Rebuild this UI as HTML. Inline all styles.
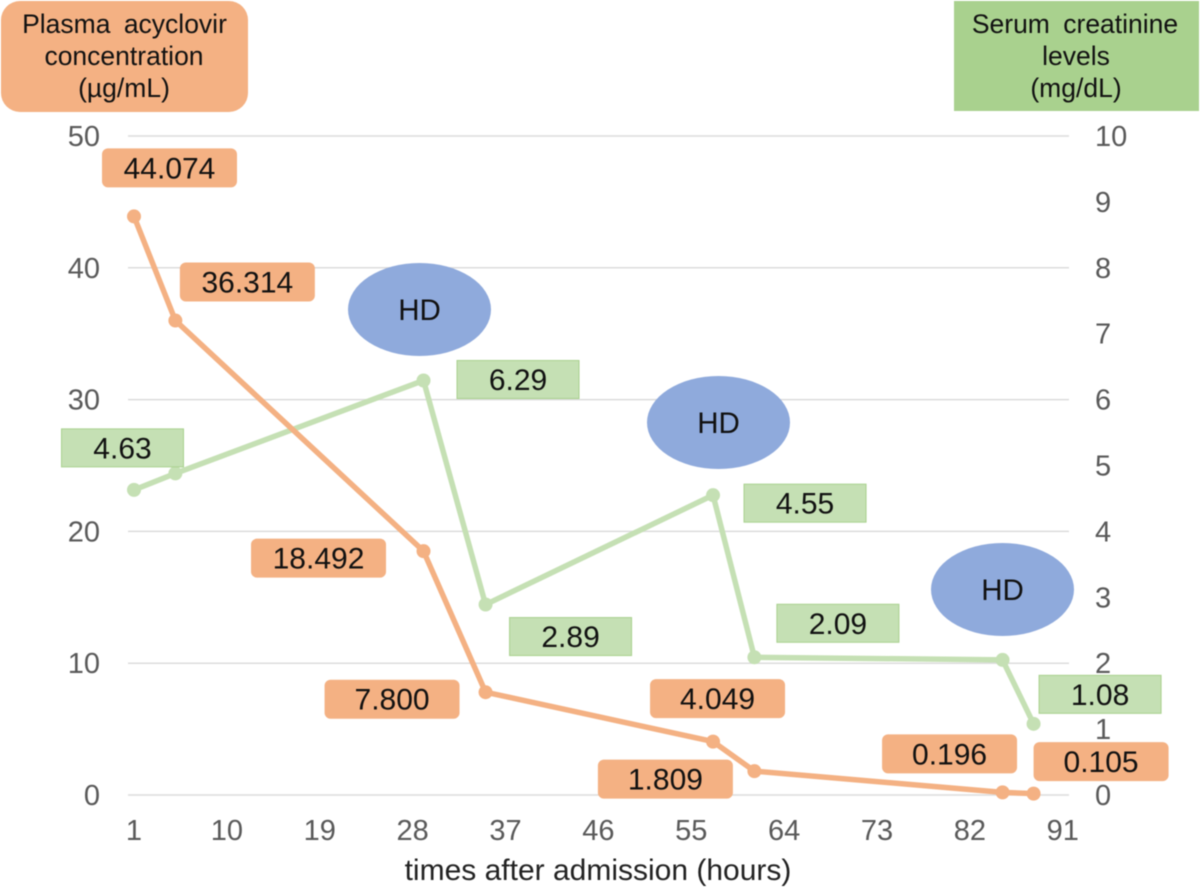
<!DOCTYPE html>
<html lang="en">
<head>
<meta charset="utf-8">
<title>Plasma acyclovir and serum creatinine over time</title>
<style>
html,body{margin:0;padding:0;background:#fff;width:1200px;height:890px;overflow:hidden}
svg{display:block;font-family:"Liberation Sans",Arial,sans-serif}
#chart-root{filter:blur(0.45px)}
</style>
</head>
<body>
<svg id="chart" xmlns="http://www.w3.org/2000/svg" width="1200" height="890" viewBox="0 0 1200 890">
<g id="chart-root">
  <g id="grid-layer"></g>
  <g id="tick-layer"></g>
  <g id="series-layer"></g>
  <g id="label-layer"></g>

  <g>
    <rect x="1" y="1" width="247" height="111" rx="19" fill="#f4b183"/>
    <text x="124.5" y="33" text-anchor="middle" font-size="26.5" word-spacing="6" fill="#111">Plasma acyclovir</text>
    <text x="124" y="65" text-anchor="middle" font-size="26.5" fill="#111">concentration</text>
    <text x="124" y="97" text-anchor="middle" font-size="26.5" fill="#111">(µg/mL)</text>
  </g>
  <g>
    <rect x="954" y="1" width="245" height="110" fill="#a9d18e"/>
    <text x="1075" y="33" text-anchor="middle" font-size="26.5" word-spacing="6" fill="#111">Serum creatinine</text>
    <text x="1076" y="65" text-anchor="middle" font-size="26.5" fill="#111">levels</text>
    <text x="1076" y="97" text-anchor="middle" font-size="26.5" fill="#111">(mg/dL)</text>
  </g>

  <g>
    <ellipse cx="419.5" cy="309.5" rx="71.5" ry="46.5" fill="#8faadc"/>
    <text x="419.5" y="320" text-anchor="middle" font-size="29.5" fill="#111">HD</text>
  </g>
  <g>
    <ellipse cx="718.5" cy="422.5" rx="71.5" ry="46.5" fill="#8faadc"/>
    <text x="718.5" y="433" text-anchor="middle" font-size="29.5" fill="#111">HD</text>
  </g>
  <g>
    <ellipse cx="1002.5" cy="589.5" rx="71.5" ry="46.5" fill="#8faadc"/>
    <text x="1002.5" y="600" text-anchor="middle" font-size="29.5" fill="#111">HD</text>
  </g>

  <text x="598" y="880" text-anchor="middle" font-size="30" fill="#222">times after admission (hours)</text>
</g>
</svg>
<script>
// Chart data
const xTickLabels = [1, 10, 19, 28, 37, 46, 55, 64, 73, 82, 91];
const leftTickLabels = [0, 10, 20, 30, 40, 50];
const rightTickLabels = [0, 1, 2, 3, 4, 5, 6, 7, 8, 9, 10];
const hours = [1, 5, 29, 35, 57, 61, 85, 88];
const acyclovirValues = [43.9, 36.0, 18.5, 7.8, 4.05, 1.81, 0.2, 0.105];
const acyclovirLabels = ['44.074', '36.314', '18.492', '7.800', '4.049', '1.809', '0.196', '0.105'];
const creatinineHours = [1, 5, 29, 35, 57, 61, 85, 88];
const creatinineValues = [4.63, 4.88, 6.29, 2.89, 4.55, 2.09, 2.05, 1.08];
const creatinineLabels = ['4.63', null, '6.29', '2.89', '4.55', '2.09', null, '1.08'];

// Layout: label-box centre offsets relative to each point
const acyclovirLabelOffsets = [[35.5, -48.5], [72, -38.5], [-105, 7], [-93.5, 7], [4.5, -43], [-89, 8], [-53, -38.5], [67.5, -32]];
const creatinineLabelOffsets = [[-11.5, -42], null, [94.5, -1], [85, 32], [92, 8], [83.5, -34], null, [66.5, -29.5]];

const NS = 'http://www.w3.org/2000/svg';
const xScale = function (h) { return 134 + (h - 1) * 10.34; };
const xTickScale = function (t) { return 134 + (t - 1) * 10.32; };
const yLeft = function (v) { return 795 - v * 13.18; };
const yRight = function (v) { return 795 - v * 65.9; };

function make(tag, attrs, parent, text) {
  const el = document.createElementNS(NS, tag);
  Object.keys(attrs).forEach(function (k) { el.setAttribute(k, attrs[k]); });
  if (text !== undefined) { el.textContent = text; }
  parent.appendChild(el);
  return el;
}

const gridLayer = document.getElementById('grid-layer');
const tickLayer = document.getElementById('tick-layer');
const seriesLayer = document.getElementById('series-layer');
const labelLayer = document.getElementById('label-layer');

leftTickLabels.forEach(function (t) {
  const line = make('line', { x1: 128, x2: 1069, y1: yLeft(t), y2: yLeft(t), stroke: '#dcdcdc', 'stroke-width': 1.5 }, gridLayer);
  
  
  const label = make('text', { x: 100, y: yLeft(t) + 10, 'text-anchor': 'end', 'font-size': 29, fill: '#595959' }, tickLayer, String(t));
  
  
});

rightTickLabels.forEach(function (t) {
  const label = make('text', { x: 1095, y: yRight(t) + 10, 'text-anchor': 'start', 'font-size': 29, fill: '#595959' }, tickLayer, String(t));
  
  
});

xTickLabels.forEach(function (t) {
  const label = make('text', { x: xTickScale(t), y: 840, 'text-anchor': 'middle', 'font-size': 29, fill: '#595959' }, tickLayer, String(t));
  
  
});

function drawSeries(xs, values, yScale, color, name) {
  const pts = xs.map(function (h, i) { return xScale(h) + ',' + yScale(values[i]); }).join(' ');
  const line = make('polyline', { points: pts, fill: 'none', stroke: color, 'stroke-width': 5.5, 'stroke-linejoin': 'round' }, seriesLayer);
  
  
  xs.forEach(function (h, i) {
    const dot = make('circle', { cx: xScale(h), cy: yScale(values[i]), r: 7, fill: color }, seriesLayer);
    
    
  });
}

function drawLabels(xs, values, labels, offsets, yScale, boxW, boxH, rx, fill, stroke, name) {
  xs.forEach(function (h, i) {
    if (labels[i] === null) { return; }
    const cx = xScale(h) + offsets[i][0];
    const cy = yScale(values[i]) + offsets[i][1];
    const box = make('rect', { x: cx - boxW / 2, y: cy - boxH / 2, width: boxW, height: boxH, rx: rx, fill: fill, stroke: stroke, 'stroke-width': 1 }, labelLayer);
    
    
    const txt = make('text', { x: cx, y: cy + 10.5, 'text-anchor': 'middle', 'font-size': 30, fill: '#111' }, labelLayer, labels[i]);
    
    
  });
}

drawSeries(creatinineHours, creatinineValues, yRight, '#c5e0b4', 'creatinine');
drawSeries(hours, acyclovirValues, yLeft, '#f4b183', 'acyclovir');
drawLabels(hours, acyclovirValues, acyclovirLabels, acyclovirLabelOffsets, yLeft, 135, 39, 6, '#f4b183', 'none', 'acyclovir');
drawLabels(creatinineHours, creatinineValues, creatinineLabels, creatinineLabelOffsets, yRight, 122, 38, 0, '#c5e0b4', '#a9d18e', 'creatinine');
</script>
</body>
</html>
